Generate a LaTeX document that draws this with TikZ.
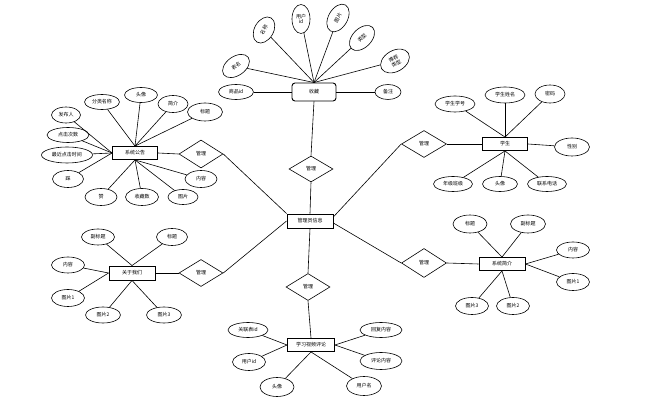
\documentclass[tikz,border=0pt]{standalone}
\usepackage{fontspec}
\newfontfamily\cjk{Noto Sans CJK SC}
\usetikzlibrary{shapes.geometric}
\begin{document}
\begin{tikzpicture}[x=1pt,y=-1pt,
  txt/.style={font=\cjk\fontsize{5}{5.5}\selectfont},
  attr/.style={txt,ellipse,draw,line width=0.6pt,minimum width=33,minimum height=15,inner sep=0pt},
  ent/.style={txt,rectangle,draw,line width=0.9pt,minimum width=46,minimum height=13,inner sep=0pt},
  rel/.style={txt,diamond,draw,line width=0.6pt,minimum width=44,minimum height=27,inner sep=0pt},
  conn/.style={line width=0.6pt}]
\useasboundingbox (0,0) rectangle (657,403);
\fill[white] (0,0) rectangle (657,403);

% entities
\node[ent,rounded corners=3pt,minimum width=44,minimum height=18] (sc) at (314,92) {收藏};
\node[ent,minimum width=45] (gg) at (135,153) {系统公告};
\node[ent,minimum width=45] (xs) at (505,144) {学生};
\node[ent,minimum height=14] (gy) at (132,273) {关于我们};
\node[ent] (jj) at (502,264) {系统简介};
\node[ent,minimum width=47] (pl) at (311,345) {学习视频评论};
\node[ent,minimum height=14] (gly) at (310,221) {管理员信息};

% relationships
\node[rel,minimum height=26] (d1) at (311,169) {管理};
\node[rel,minimum height=28] (d2) at (201,154) {管理};
\node[rel,minimum width=45] (d3) at (424,144) {管理};
\node[rel] (d4) at (201,273) {管理};
\node[rel,minimum width=45,minimum height=29] (d5) at (424,263) {管理};
\node[rel] (d6) at (308,287) {管理};

\draw[conn] (sc.south) -- (d1.north);
\draw[conn] (d1.south) -- (gly.north);
\draw[conn] (gg.east) -- (d2.west);
\draw[conn] (d2.east) -- (gly.north west);
\draw[conn] (xs.west) -- (d3.east);
\draw[conn] (d3.west) -- (gly.10);
\draw[conn] (gy.east) -- (d4.west);
\draw[conn] (d4.east) -- (gly.west);
\draw[conn] (jj.west) -- (d5.east);
\draw[conn] (d5.west) -- (gly.-5);
\draw[conn] (gly.south) -- (d6.north);
\draw[conn] (d6.south) -- (pl.north);

% 收藏 attributes
\node[attr,minimum width=35] (sc1) at (236,92) {商品id};
\node[attr,minimum width=26] (sc2) at (388,92) {备注};
\node[attr,minimum width=30,minimum height=19,rotate=35] (sc3) at (236,66) {表名};
\node[attr,minimum width=28,minimum height=19,rotate=60] (sc4) at (264,30) {名称};
\node[attr,minimum width=18,minimum height=29,align=center] (sc5) at (301,19) {用户\\id};
\node[attr,minimum width=30,minimum height=19,rotate=60] (sc6) at (338,18) {图片};
\node[attr,minimum width=30,minimum height=19,rotate=45] (sc7) at (362,38) {类型};
\node[attr,minimum width=31,minimum height=21,rotate=30,align=center] (sc8) at (395,61) {推荐\\类型};
\draw[conn] (sc1) -- (sc.west);
\draw[conn] (sc2) -- (sc.east);
\foreach \a in {sc3,sc4,sc5,sc6,sc7,sc8} \draw[conn] (\a) -- (sc.north);

% 系统公告 attributes
\node[attr,minimum width=35] (g1) at (102,102) {分类名称};
\node[attr] (g2) at (141,95) {头像};
\node[attr,minimum width=30,minimum height=17] (g3) at (173,104) {简介};
\node[attr,minimum width=35,minimum height=18] (g4) at (205,112) {标题};
\node[attr,minimum width=29,minimum height=16] (g5) at (66,115) {发布人};
\node[attr,minimum width=42] (g6) at (68,135) {点击次数};
\node[attr,minimum width=51,minimum height=16] (g7) at (67,155) {最近点击时间};
\node[attr,minimum width=31,minimum height=17] (g8) at (68,179) {踩};
\node[attr,minimum width=32,minimum height=17] (g9) at (101,197) {赞};
\node[attr,minimum width=33,minimum height=17] (g10) at (142,197) {收藏数};
\node[attr,minimum width=30] (g11) at (183,197) {图片};
\node[attr,minimum width=32,minimum height=17] (g12) at (201,179) {内容};
\foreach \a in {g1,g2,g3,g4} \draw[conn] (\a) -- (gg.north);
\foreach \a in {g5,g6,g7,g8} \draw[conn] (\a) -- (gg.west);
\foreach \a in {g9,g10,g11,g12} \draw[conn] (\a) -- (gg.south);

% 学生 attributes
\node[attr,minimum width=40,minimum height=16] (x1) at (455,104) {学生学号};
\node[attr,minimum width=40,minimum height=16] (x2) at (505,95) {学生姓名};
\node[attr,minimum width=30,minimum height=18] (x3) at (550,94) {密码};
\node[attr,minimum width=35,minimum height=18] (x4) at (572,147) {性别};
\node[attr,minimum width=39] (x5) at (453,184) {年级班级};
\node[attr,minimum width=35] (x6) at (500,184) {头像};
\node[attr,minimum width=39] (x7) at (547,184) {联系电话};
\foreach \a in {x1,x2,x3} \draw[conn] (\a) -- (xs.north);
\foreach \a in {x5,x6,x7} \draw[conn] (\a) -- (xs.south);
\draw[conn] (x4) -- (xs.east);

% 关于我们 attributes
\node[attr,minimum height=16] (a1) at (98,237) {副标题};
\node[attr,minimum width=31,minimum height=17] (a2) at (172,237) {标题};
\node[attr,minimum height=16] (a3) at (68,265) {内容};
\node[attr,minimum height=17] (a4) at (68,298) {图片1};
\node[attr,minimum width=35,minimum height=16] (a5) at (103,315) {图片2};
\node[attr,minimum width=35,minimum height=16] (a6) at (164,315) {图片3};
\foreach \a in {a1,a2} \draw[conn] (\a) -- (gy.north);
\foreach \a in {a3,a4} \draw[conn] (\a) -- (gy.west);
\foreach \a in {a5,a6} \draw[conn] (\a) -- (gy.south);

% 系统简介 attributes
\node[attr,minimum width=34,minimum height=18] (j1) at (470,224) {标题};
\node[attr,minimum width=35,minimum height=18] (j2) at (528,224) {副标题};
\node[attr,minimum height=16] (j3) at (573,250) {内容};
\node[attr,minimum height=17] (j4) at (573,282) {图片1};
\node[attr,minimum height=17] (j5) at (472,306) {图片3};
\node[attr,minimum height=17] (j6) at (513,306) {图片2};
\foreach \a in {j1,j2} \draw[conn] (\a) -- (jj.north);
\foreach \a in {j3,j4} \draw[conn] (\a) -- (jj.east);
\foreach \a in {j5,j6} \draw[conn] (\a) -- (jj.south);

% 学习视频评论 attributes
\node[attr,minimum width=40] (p1) at (248,330) {关联表id};
\node[attr,minimum height=17] (p2) at (249,362) {用户id};
\node[attr,minimum width=34,minimum height=19] (p3) at (277,387) {头像};
\node[attr,minimum width=35,minimum height=19] (p4) at (364,386) {用户名};
\node[attr,minimum width=42] (p5) at (381,330) {回复内容};
\node[attr,minimum width=42,minimum height=17] (p6) at (381,361) {评论内容};
\foreach \a in {p1,p2} \draw[conn] (\a) -- (pl.west);
\foreach \a in {p3,p4} \draw[conn] (\a) -- (pl.south);
\foreach \a in {p5,p6} \draw[conn] (\a) -- (pl.east);
\end{tikzpicture}
\end{document}
